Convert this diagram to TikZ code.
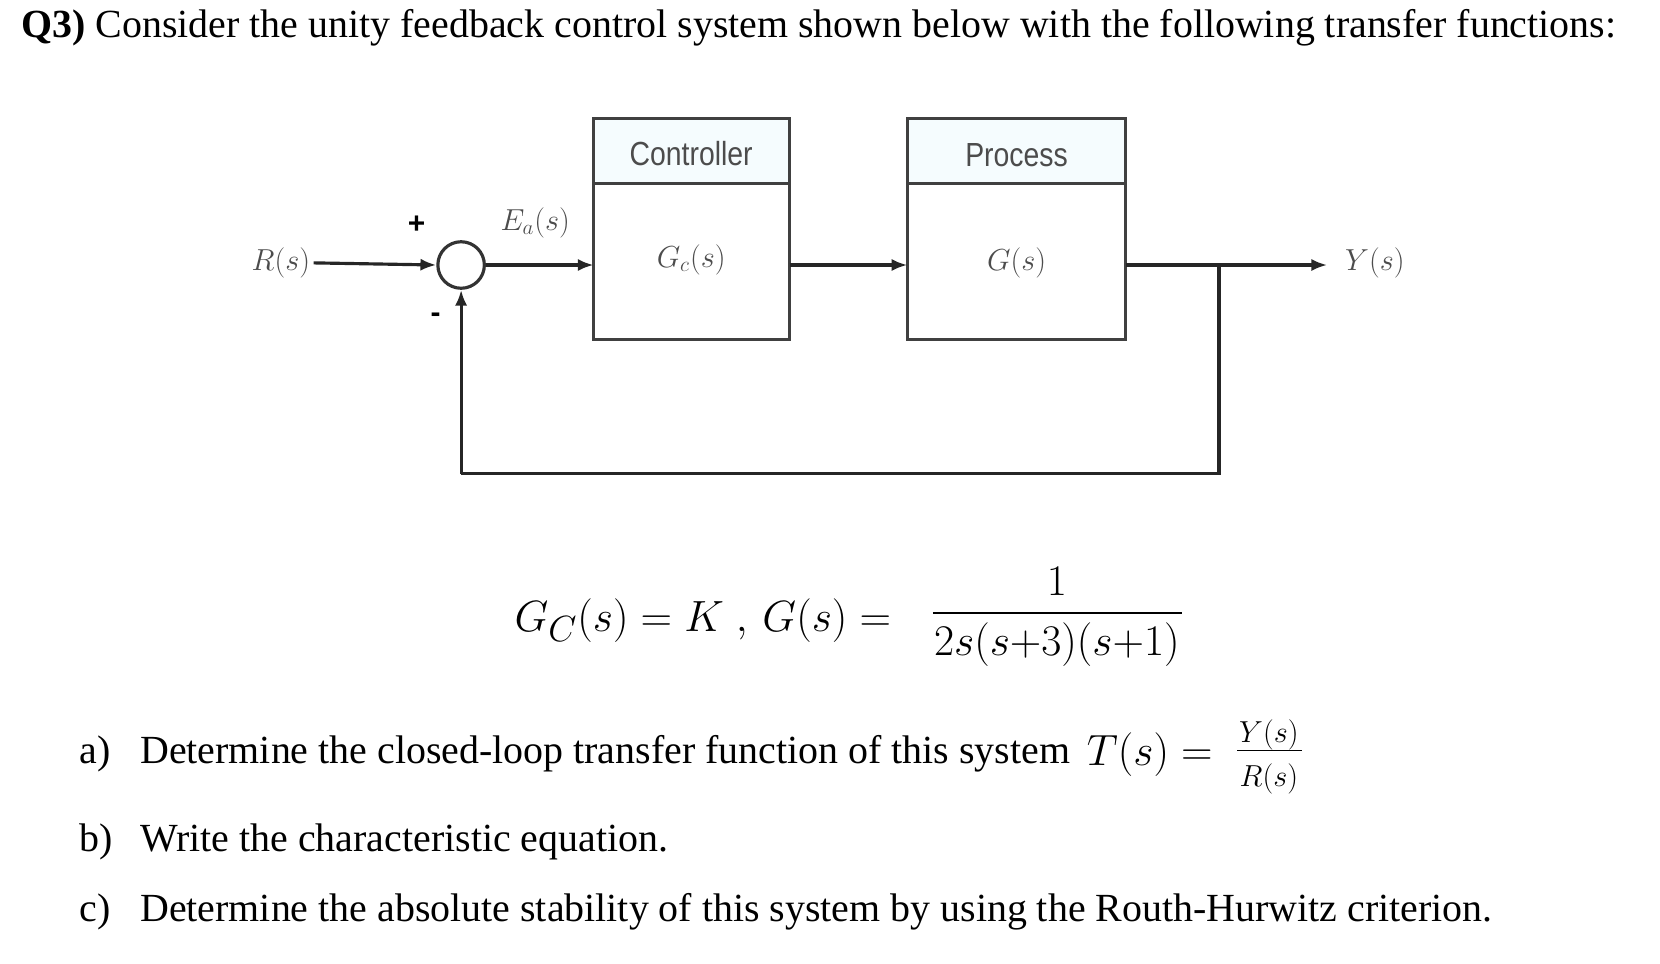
\documentclass[tikz,border=0pt]{standalone}
\usepackage{fontspec}
\setmainfont{Liberation Serif}
\newfontfamily\dsans{Liberation Sans}
\usetikzlibrary{arrows.meta}
\begin{document}
\begin{tikzpicture}[x=0.0212cm,y=-0.0212cm,
  blk/.style={draw=black!75,line width=1.6pt},
  wire/.style={line width=1.8pt,black!85},
  arr/.style={wire,-{Latex[length=9pt,width=7pt]}},
  dl/.style={font=\dsans\fontsize{17}{20}\selectfont,text=black!70,inner sep=0},
  txt/.style={anchor=base west,inner sep=0,font=\fontsize{22.7}{27}\selectfont}]
\useasboundingbox (0,0) rectangle (1566,909);
% title
\node[txt] (title) at (20,35) {\textbf{Q3)} Consider the unity feedback control system shown below with the following transfer functions:};
% blocks
\draw[blk,fill=cyan!4] (560,112) rectangle (745,173);
\draw[blk] (560,173) rectangle (745,320);
\draw[blk,fill=cyan!4] (856,112) rectangle (1062,173);
\draw[blk] (856,173) rectangle (1062,320);
\node[dl,font=\dsans\fontsize{19}{22}\selectfont\addfontfeature{FakeStretch=0.85}] (ctl) at (652,145) {Controller};
\node[dl,font=\dsans\fontsize{19}{22}\selectfont\addfontfeature{FakeStretch=0.85}] (prc) at (959,146) {Process};
\node[dl] (gc) at (652,245) {$G_c(s)$};
\node[dl] (g) at (959,248) {$G(s)$};
\coordinate (cl) at (560,250);
\coordinate (cr) at (745,250);
\coordinate (pl) at (856,250);
\coordinate (pr) at (1062,250);
\node[draw=black!80,line width=1.8pt,circle,inner sep=0,minimum size=0.93cm] (sum) at (435,250) {};
\node[dl] (R) at (265,248) {$R(s)$};
\node[dl] (Y) at (1297,248) {$Y(s)$};
\node[dl] (E) at (505,210) {$E_a(s)$};
\node[dl,text=black] (plus) at (393,212) {\textbf{+}};
\node[dl,text=black] (minus) at (411,300) {\textbf{-}};
\coordinate (br) at (1150,250);
\coordinate (bb) at (1150,447);
\coordinate (bl) at (435,447);
\coordinate (yend) at (1252,250);
\draw[arr] (R.east) ++(3,0) -- (sum.west);
\draw[arr] (sum.east) -- (cl);
\draw[arr] (cr) -- (pl);
\draw[arr] (pr) -- (yend);
\draw[wire] (br) -- (bb) -- (bl);
\draw[arr] (bl) -- (sum.south);
% equation
\node[anchor=base,inner sep=0,font=\fontsize{29.5}{34}\selectfont] (eq) at (663,596) {$G_C(s) = K \;,\, G(s) =$};
\node[anchor=base,inner sep=0,font=\fontsize{24}{28}\selectfont] (num) at (997,562) {$1$};
\node[anchor=base,inner sep=0,font=\fontsize{24}{28}\selectfont] (den) at (997,618) {$2s(s{+}3)(s{+}1)$};
\draw[line width=1pt] (880,578) -- (1115,578);
% questions
\node[txt] (qa) at (75,720) {a)};
\node[txt] (qat) at (132,720) {Determine the closed-loop transfer function of this system};
\node[anchor=base west,inner sep=0,font=\fontsize{29}{34}\selectfont] (ts) at (1025,722) {$T(s) =$};
\node[anchor=base,inner sep=0,font=\fontsize{19}{22}\selectfont] (yn) at (1197,700) {$Y(s)$};
\node[anchor=base,inner sep=0,font=\fontsize{19}{22}\selectfont] (rd) at (1197,742) {$R(s)$};
\draw[line width=0.8pt] (1167,708) -- (1228,708);
\node[txt] (qb) at (75,803) {b)};
\node[txt] (qbt) at (132,803) {Write the characteristic equation.};
\node[txt] (qc) at (75,869) {c)};
\node[txt] (qct) at (132,869) {Determine the absolute stability of this system by using the Routh-Hurwitz criterion.};
\end{tikzpicture}
\end{document}
